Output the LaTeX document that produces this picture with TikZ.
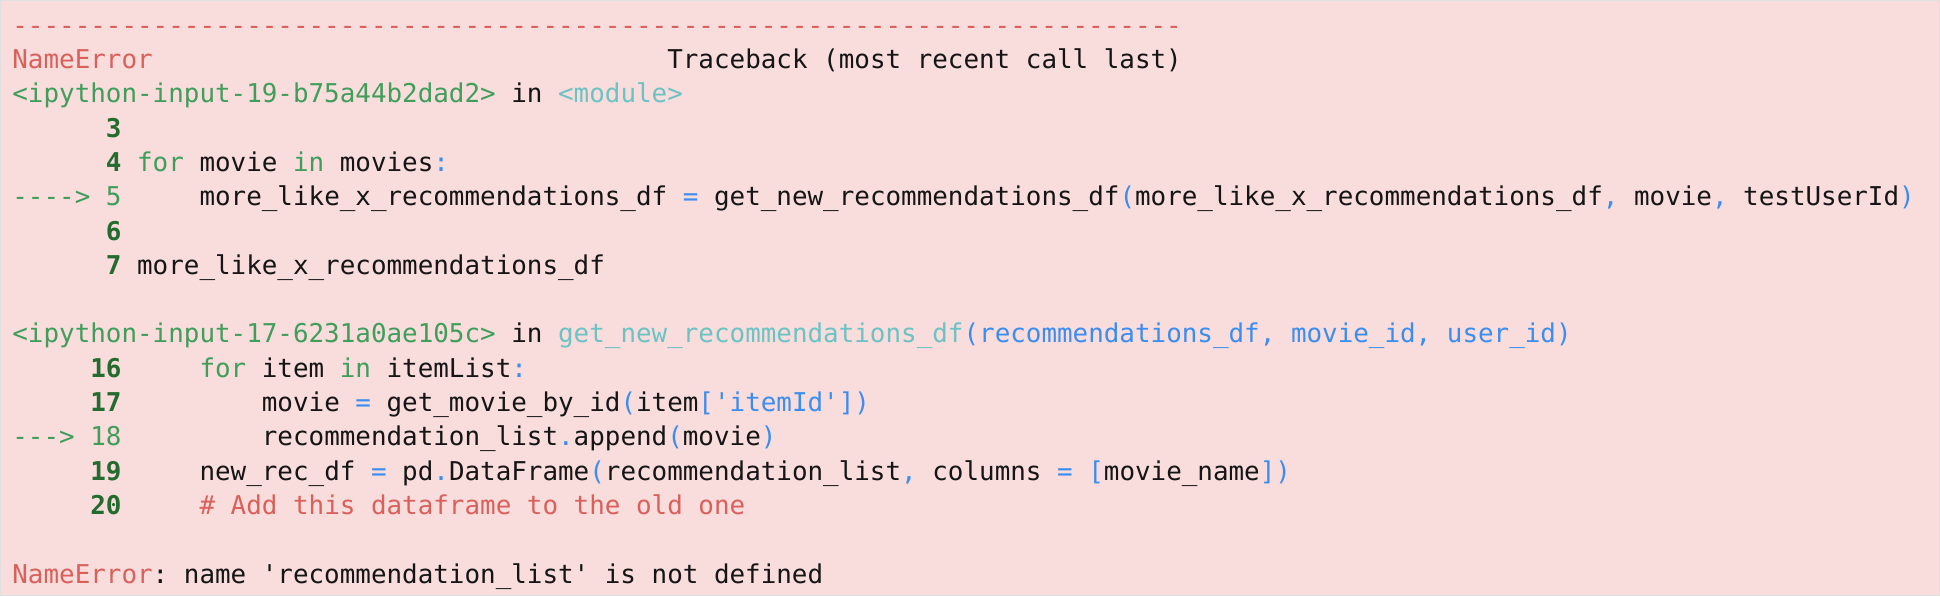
\documentclass[tikz,border=0pt]{standalone}
\usepackage{fontspec}
\setmonofont{DejaVu Sans Mono}
\definecolor{bg}{HTML}{F9DCDC}
\definecolor{ered}{HTML}{D9605B}
\definecolor{egreen}{HTML}{3E9E5A}
\definecolor{dgreen}{HTML}{236B2E}
\definecolor{ecyan}{HTML}{6CC3C4}
\definecolor{eblue}{HTML}{3A8EF0}
\definecolor{etext}{HTML}{151515}
\newcommand\spc[1]{\hspace*{#1\fontcharwd\font`x}}
\newcommand\R[1]{\textcolor{ered}{#1}}
\newcommand\G[1]{\textcolor{egreen}{#1}}
\newcommand\N[1]{\textcolor{dgreen}{\bfseries #1}}
\newcommand\C[1]{\textcolor{ecyan}{#1}}
\newcommand\B[1]{\textcolor{eblue}{#1}}
\begin{document}
\begin{tikzpicture}[x=1pt,y=1pt,
  codeline/.style={anchor=base west,inner sep=0pt,font=\ttfamily\fontsize{12.95}{15}\selectfont,text=etext}]
\useasboundingbox (0,0) rectangle (970,-298);
\fill[bg] (0,0) rectangle (970,-298);
\draw[black!12,line width=0.6pt] (0.3,-0.3) rectangle (969.7,-297.7);
\def\L#1{-12.5-17.15*(#1-1)-4.6}
\node[codeline] (l1) at (6,{\L{1}}) {\R{---------------------------------------------------------------------------}};
\node[codeline] (l2) at (6,{\L{2}}) {\R{NameError}\spc{33}Traceback (most recent call last)};
\node[codeline] (l3) at (6,{\L{3}}) {\G{<ipython-input-19-b75a44b2dad2>} in \C{<module>}};
\node[codeline] (l4) at (6,{\L{4}}) {\spc{6}\N{3}};
\node[codeline] (l5) at (6,{\L{5}}) {\spc{6}\N{4} \G{for} movie \G{in} movies\B{:}};
\node[codeline] (l6) at (6,{\L{6}}) {\G{---->\spc{1}5}\spc{5}more\_like\_x\_recommendations\_df \B{=} get\_new\_recommendations\_df\B{(}more\_like\_x\_recommendations\_df\B{,} movie\B{,} testUserId\B{)}};
\node[codeline] (l7) at (6,{\L{7}}) {\spc{6}\N{6}};
\node[codeline] (l8) at (6,{\L{8}}) {\spc{6}\N{7} more\_like\_x\_recommendations\_df};
\node[codeline] (l10) at (6,{\L{10}}) {\G{<ipython-input-17-6231a0ae105c>} in \C{get\_new\_recommendations\_df}\B{(recommendations\_df,\spc{1}movie\_id,\spc{1}user\_id)}};
\node[codeline] (l11) at (6,{\L{11}}) {\spc{5}\N{16}\spc{5}\G{for} item \G{in} itemList\B{:}};
\node[codeline] (l12) at (6,{\L{12}}) {\spc{5}\N{17}\spc{9}movie \B{=} get\_movie\_by\_id\B{(}item\B{['itemId'])}};
\node[codeline] (l13) at (6,{\L{13}}) {\G{--->\spc{1}18}\spc{9}recommendation\_list\B{.}append\B{(}movie\B{)}};
\node[codeline] (l14) at (6,{\L{14}}) {\spc{5}\N{19}\spc{5}new\_rec\_df \B{=} pd\B{.}DataFrame\B{(}recommendation\_list\B{,} columns \B{=} \B{[}movie\_name\B{])}};
\node[codeline] (l15) at (6,{\L{15}}) {\spc{5}\N{20}\spc{5}\R{\#\spc{1}Add this dataframe to the old one}};
\node[codeline] (l17) at (6,{\L{17}}) {\R{NameError}: name 'recommendation\_list' is not defined};
\end{tikzpicture}
\end{document}
